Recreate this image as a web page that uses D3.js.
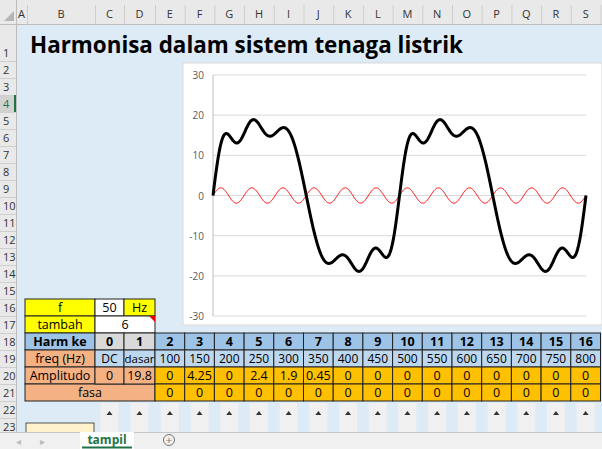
<!DOCTYPE html><html><head><meta charset="utf-8">
<script src="https://cdn.jsdelivr.net/npm/d3@7"></script>
<style>body{margin:0;overflow:hidden;background:#fff}svg{display:block;font-family:"Open Sans",Arial,sans-serif}</style>
</head><body><svg id="s" width="602" height="449"></svg>
<script>
const colLetters=["A","B","C","D","E","F","G","H","I","J","K","L","M","N","O","P","Q","R","S"];
const harmKe=["0","1","2","3","4","5","6","7","8","9","10","11","12","13","14","15","16"];
const freqLabels=["DC","dasar","100","150","200","250","300","350","400","450","500","550","600","650","700","750","800"];
const amplitudo=[0,19.8,0,4.25,0,2.4,1.9,0.45,0,0,0,0,0,0,0,0,0];
const fasa=[0,0,0,0,0,0,0,0,0,0,0,0,0,0,0];
const f0=50, tambah=6;
const yTicks=[30,20,10,0,-10,-20,-30];

const CW=29.7;
const svg=d3.select("#s");
const bg="#ddebf7";
svg.append("rect").attr("width",602).attr("height",449).attr("fill",bg);
const colEdges=[16,27,95,124,155];
for(let i=1;i<=15;i++)colEdges.push(155+i*CW);
const rowTop=n=>n===1?25:61+(n-2)*17;
svg.append("rect").attr("x",0).attr("y",0).attr("width",602).attr("height",25).attr("fill","#e9e9e9");
svg.append("rect").attr("x",0).attr("y",0).attr("width",16).attr("height",449).attr("fill","#e9e9e9");
svg.append("rect").attr("x",0).attr("y",rowTop(4)).attr("width",16).attr("height",17).attr("fill","#d2d2d2");
svg.append("line").attr("x1",0).attr("x2",602).attr("y1",24.5).attr("y2",24.5).attr("stroke","#bdbdbd");
svg.append("line").attr("x1",16.5).attr("x2",16.5).attr("y1",0).attr("y2",449).attr("stroke","#bdbdbd");
svg.append("path").attr("d","M4,21 L14,21 L14,11 Z").attr("fill","#b5b5b5");
colLetters.forEach((c,i)=>{
  const x0=colEdges[i],x1=colEdges[i+1];
  svg.append("line").attr("x1",x1+.5).attr("x2",x1+.5).attr("y1",5).attr("y2",24).attr("stroke","#cfcfcf");
  svg.append("text").attr("x",(x0+x1)/2).attr("y",18).attr("text-anchor","middle").attr("font-size",11).attr("fill","#333").text(c);
});
for(let n=1;n<=23;n++){
  const t=rowTop(n),b=n===1?61:t+17;
  svg.append("line").attr("x1",0).attr("x2",16).attr("y1",b+.5).attr("y2",b+.5).attr("stroke","#cfcfcf");
  svg.append("text").attr("x",3).attr("y",b-4).attr("font-size",11).attr("fill",n===4?"#217346":"#333").text(n);
}
svg.append("line").attr("x1",15).attr("x2",15).attr("y1",rowTop(4)).attr("y2",rowTop(4)+17).attr("stroke","#217346").attr("stroke-width",2);

svg.append("text").attr("x",30).attr("y",53).attr("font-size",22.4).attr("font-weight","bold").attr("fill","#000").text("Harmonisa dalam sistem tenaga listrik");

const cx0=183,cy0=63,cw=419,ch=262;
svg.append("rect").attr("x",cx0).attr("y",cy0).attr("width",cw).attr("height",ch).attr("fill","#fff").attr("stroke","#d9d9d9");
const y=d3.scaleLinear().domain([-30,30]).range([316,75]);
const T=2/f0, N=800;
const x=d3.scaleLinear().domain([0,T]).range([213,586]);
const g=svg.append("g");
yTicks.forEach(v=>{
  g.append("line").attr("x1",213).attr("x2",586).attr("y1",y(v)).attr("y2",y(v)).attr("stroke","#d9d9d9");
  g.append("text").attr("x",204).attr("y",y(v)+4).attr("text-anchor","end").attr("font-size",10).attr("fill","#595959").text(v);
});
g.append("line").attr("x1",213).attr("x2",213).attr("y1",75).attr("y2",316).attr("stroke","#bfbfbf");
const ts=d3.range(N+1).map(i=>i*T/N);
const w=2*Math.PI*f0;
const total=ts.map(t=>[t,amplitudo.reduce((s,a,n)=>s+(n===0?a:a*Math.sin(n*w*t+(fasa[n-2]||0)*Math.PI/180)),0)]);
const harm=ts.map(t=>[t,amplitudo[tambah]*Math.sin(tambah*w*t)]);
const line=d3.line().x(d=>x(d[0])).y(d=>y(d[1]));
g.append("path").attr("d",line(harm)).attr("fill","none").attr("stroke","#ff0000").attr("stroke-width",1);
g.append("path").attr("d",line(total)).attr("fill","none").attr("stroke","#000").attr("stroke-width",3);

const t=svg.append("g").attr("font-size",12.5);
function cell(x0,x1,r,fill,txt,opt={}){
  const top=rowTop(r);
  t.append("rect").attr("x",x0).attr("y",top).attr("width",x1-x0).attr("height",17).attr("fill",fill).attr("stroke","#222").attr("stroke-width",1);
  if(txt!==undefined)t.append("text").attr("x",(x0+x1)/2).attr("y",top+13).attr("text-anchor","middle").attr("font-weight",opt.b?"bold":"normal").attr("font-size",opt.fs||12.5).attr("fill","#000").text(txt);
}
const B0=25,B1=95,C1=124,D1=155;
cell(B0,B1,16,"#ffff00","f");cell(B1,C1,16,"#fff",f0);cell(C1,D1,16,"#ffff00","Hz");
cell(B0,B1,17,"#ffff00","tambah");cell(B1,D1,17,"#fff",tambah);
t.append("path").attr("d",`M${D1-6},${rowTop(17)} L${D1},${rowTop(17)} L${D1},${rowTop(17)+6}Z`).attr("fill","#e00");
cell(B0,B1,18,"#9dc3e6","Harm ke",{b:1});
cell(B0,B1,19,"#f4b183","freq (Hz)");
cell(B0,B1,20,"#f4b183","Amplitudo");
cell(B0,D1,21,"#f4b183","fasa");
const xs=[B1,C1,D1];for(let i=1;i<=15;i++)xs.push(D1+i*CW);
harmKe.forEach((h,i)=>{
  const a=xs[i],b=xs[i+1];
  cell(a,b,18,i<2?"#d9d9d9":"#9dc3e6",h,{b:1});
  cell(a,b,19,"#bdd7ee",freqLabels[i],{fs:i===1?11.5:12});
  cell(a,b,20,i<2?"#f4b183":"#ffc000",amplitudo[i]);
  if(i>=2)cell(a,b,21,"#ffc000",fasa[i-2]);
});
for(let i=0;i<17;i++){
  const cxm=(xs[i]+xs[i+1])/2;
  t.append("rect").attr("x",cxm-9).attr("y",403).attr("width",18).attr("height",29).attr("fill","#f0f0f0");
  t.append("path").attr("d",`M${cxm-3},${415} L${cxm+3},${415} L${cxm},${411}Z`).attr("fill","#333");
}
t.append("rect").attr("x",B0+1).attr("y",423).attr("width",68).attr("height",14).attr("fill","#fff2cc").attr("stroke","#555");
svg.append("rect").attr("x",0).attr("y",432).attr("width",602).attr("height",17).attr("fill","#f0f0f0");
svg.append("line").attr("x1",0).attr("x2",602).attr("y1",432.5).attr("y2",432.5).attr("stroke","#c6c6c6");
svg.append("text").attr("x",16).attr("y",445).attr("font-size",10).attr("fill","#bbb").text("◂");
svg.append("text").attr("x",40).attr("y",445).attr("font-size",10).attr("fill","#bbb").text("▸");
svg.append("rect").attr("x",80).attr("y",432).attr("width",54).attr("height",17).attr("fill","#fff");
svg.append("line").attr("x1",82).attr("x2",132).attr("y1",447.5).attr("y2",447.5).attr("stroke","#217346").attr("stroke-width",2);
svg.append("text").attr("x",107).attr("y",444).attr("text-anchor","middle").attr("font-size",12).attr("font-weight","bold").attr("fill","#217346").text("tampil");
svg.append("circle").attr("cx",169).attr("cy",440).attr("r",5.5).attr("fill","none").attr("stroke","#777");
svg.append("text").attr("x",169).attr("y",444).attr("text-anchor","middle").attr("font-size",11).attr("fill","#777").text("+");
</script></body></html>
